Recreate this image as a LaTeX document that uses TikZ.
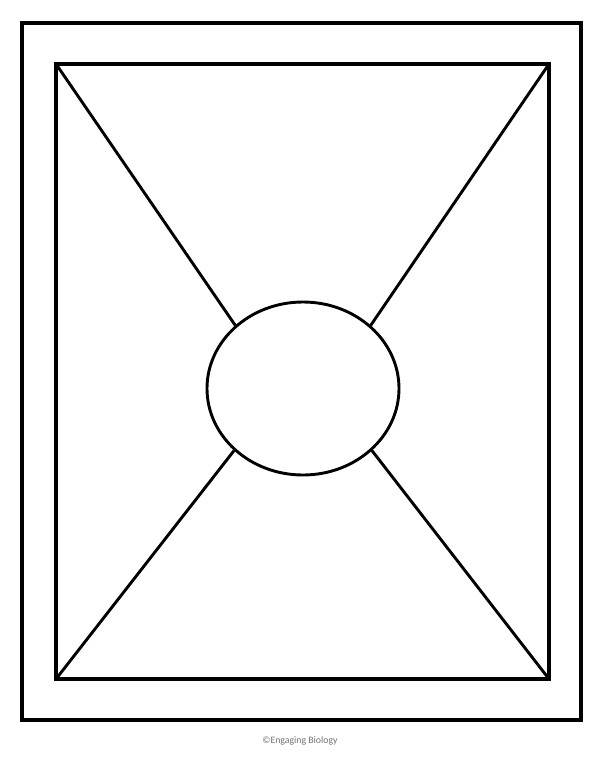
\documentclass[tikz,border=0pt]{standalone}
\usepackage{fontspec}
\setmainfont{Carlito}
\usetikzlibrary{shapes.geometric}
\begin{document}
\begin{tikzpicture}[x=1pt,y=-1pt,
  frame/.style={draw=black,line width=3.3pt},
  spoke/.style={draw=black,line width=2.9pt},
  credit/.style={text=black!55,font=\fontsize{9.8}{11}\selectfont,inner sep=0pt}]
\useasboundingbox (0,0) rectangle (600,777);
\fill[white] (0,0) rectangle (600,777);
\draw[frame] (22,23) rectangle (581,720);
\draw[frame] (56,64) rectangle (549,679);
\coordinate (tl) at (56,64);
\coordinate (tr) at (549,64);
\coordinate (bl) at (56,679);
\coordinate (br) at (549,679);
\node[ellipse,draw=black,line width=2.9pt,minimum width=192pt,minimum height=173pt,inner sep=0pt] (c) at (303,388.5) {};
\draw[spoke] (tl) -- (c.137);
\draw[spoke] (tr) -- (c.43);
\draw[spoke] (bl) -- (c.222);
\draw[spoke] (br) -- (c.318);
\node[credit] (cr) at (300,741) {©Engaging Biology};
\end{tikzpicture}
\end{document}
